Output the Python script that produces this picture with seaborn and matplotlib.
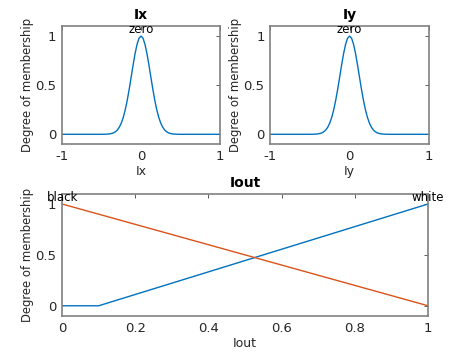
import matplotlib
matplotlib.use("Agg")
import matplotlib.pyplot as plt
import seaborn as sns
import pandas as pd

# Input membership function "zero" (symmetric about 0)
in_x = [-1.0, -0.5, -0.45, -0.4, -0.375, -0.35, -0.325, -0.3, -0.275, -0.25, -0.225, -0.2,
        -0.175, -0.15, -0.125, -0.1, -0.075, -0.05, -0.025, 0.0,
        0.025, 0.05, 0.075, 0.1, 0.125, 0.15, 0.175, 0.2, 0.225, 0.25,
        0.275, 0.3, 0.325, 0.35, 0.375, 0.4, 0.45, 0.5, 1.0]
in_zero = [0.0, 0.0, 0.001, 0.004, 0.008, 0.014, 0.026, 0.044, 0.072, 0.114, 0.172, 0.249,
           0.345, 0.458, 0.581, 0.707, 0.823, 0.917, 0.979, 1.0,
           0.979, 0.917, 0.823, 0.707, 0.581, 0.458, 0.345, 0.249, 0.172, 0.114,
           0.072, 0.044, 0.026, 0.014, 0.008, 0.004, 0.001, 0.0, 0.0]

# Output membership functions
out_x = [0.0, 0.1, 1.0]
out_black = [1.0, 0.9, 0.0]
out_white = [0.0, 0.0, 1.0]

top_titles = ["Ix", "Iy"]
bottom_title = "Iout"
ylabel = "Degree of membership"

BLUE = "#0072BD"
ORANGE = "#D95319"
SPINE = "#808080"
TXT = "#262626"

sns.set_style("white")
plt.rcParams['font.family'] = ['DejaVu Sans']

fig = plt.figure(figsize=(4.74, 3.55), dpi=100)
ax1 = fig.add_axes([0.131, 0.594, 0.333, 0.332])
ax2 = fig.add_axes([0.570, 0.594, 0.335, 0.332])
ax3 = fig.add_axes([0.131, 0.110, 0.772, 0.344])

TICK_FS = 9.5
YL_FS = 8.4
XL_FS = 9
TITLE_FS = 10
MF_FS = 8.5

def style(ax):
    for s in ax.spines.values():
        s.set_color(SPINE)
        s.set_linewidth(1.2)
    ax.tick_params(direction="in", top=True, right=True, length=3, width=0.6,
                   color="#404040", labelsize=TICK_FS, labelcolor=TXT, pad=4)
    ax.set_ylim(-0.1, 1.1)
    ax.set_yticks([0, 0.5, 1])
    ax.set_yticklabels(["0", "0.5", "1"])
    ax.set_ylabel(ylabel, fontsize=YL_FS, color=TXT, labelpad=1)

df_in = pd.DataFrame({"x": in_x, "y": in_zero})
for ax, t in zip([ax1, ax2], top_titles):
    sns.lineplot(data=df_in, x="x", y="y", ax=ax, color=BLUE, linewidth=1.0)
    style(ax)
    ax.set_xlim(-1, 1)
    ax.set_xticks([-1, 0, 1])
    ax.set_xticklabels(["-1", "0", "1"])
    ax.set_xlabel(t, fontsize=XL_FS, color=TXT, labelpad=2)
    ax.set_title(t, fontsize=TITLE_FS, fontweight="bold", color="black", pad=5)
    ax.text(0, 1.0, "zero", ha="center", va="bottom", fontsize=MF_FS, color="black")

df_out = pd.DataFrame({"x": out_x + out_x,
                       "y": out_white + out_black,
                       "mf": ["white"] * 3 + ["black"] * 3})
sns.lineplot(data=df_out, x="x", y="y", hue="mf", palette={"white": BLUE, "black": ORANGE},
             ax=ax3, linewidth=1.0, legend=False)
style(ax3)
ax3.set_xlim(0, 1)
ax3.set_xticks([0, 0.2, 0.4, 0.6, 0.8, 1])
ax3.set_xticklabels(["0", "0.2", "0.4", "0.6", "0.8", "1"])
ax3.set_xlabel(bottom_title, fontsize=XL_FS, color=TXT, labelpad=2)
ax3.set_title(bottom_title, fontsize=TITLE_FS, fontweight="bold", color="black", pad=5)
ax3.text(0, 1.0, "black", ha="center", va="bottom", fontsize=MF_FS, color="black")
ax3.text(1, 1.0, "white", ha="center", va="bottom", fontsize=MF_FS, color="black")

fig.savefig("out.png", dpi=100, facecolor="white")
